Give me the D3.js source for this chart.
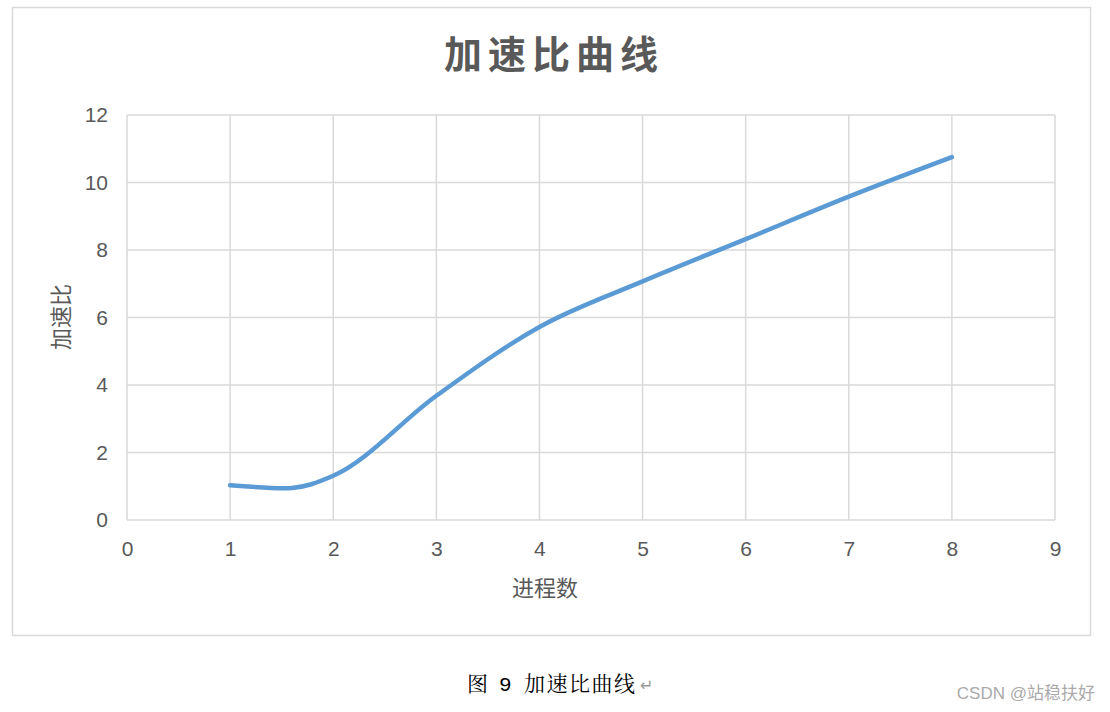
<!DOCTYPE html>
<html>
<head>
<meta charset="utf-8">
<script src="https://cdn.jsdelivr.net/npm/d3@7"></script>
<style>
  body { margin: 0; background: #fff; }
  svg { display: block; }
</style>
</head>
<body>
<div id="chart"></div>
<script>
// data
const processes = [1, 2, 3, 4, 5, 6, 7, 8];
const speedup = [1.03, 1.31, 3.68, 5.72, 7.07, 8.32, 9.58, 10.75];
const xTicks = [0, 1, 2, 3, 4, 5, 6, 7, 8, 9];
const yTicks = [0, 2, 4, 6, 8, 10, 12];

const width = 1110, height = 712;
const plot = { left: 127, right: 1055, top: 115, bottom: 520 };
const axisFont = "'Liberation Sans', 'Noto Sans CJK SC', sans-serif";
const cjkFont = "'Noto Sans CJK SC', sans-serif";
const grey = "#595959";

// Excel-like smoothed line: Catmull-Rom inside, end handles pulled toward the neighbour's handle
function SmoothCurve(context) { this._context = context; }
SmoothCurve.prototype = {
  areaStart() { this._line = 0; },
  areaEnd() { this._line = NaN; },
  lineStart() { this._pts = []; },
  point(x, y) { this._pts.push([+x, +y]); },
  lineEnd() {
    const p = this._pts, n = p.length, ctx = this._context;
    if (!n) return;
    ctx.moveTo(p[0][0], p[0][1]);
    if (n < 3) { if (n === 2) ctx.lineTo(p[1][0], p[1][1]); return; }
    const cin = [], cout = [];
    for (let i = 1; i < n - 1; i++) {
      const tx = (p[i + 1][0] - p[i - 1][0]) / 6, ty = (p[i + 1][1] - p[i - 1][1]) / 6;
      cin[i] = [p[i][0] - tx, p[i][1] - ty];
      cout[i] = [p[i][0] + tx, p[i][1] + ty];
    }
    const k = 0.9;
    cout[0] = [p[0][0] + k * (cin[1][0] - p[0][0]), p[0][1] + k * (cin[1][1] - p[0][1])];
    cin[n - 1] = [p[n - 1][0] + k * (cout[n - 2][0] - p[n - 1][0]), p[n - 1][1] + k * (cout[n - 2][1] - p[n - 1][1])];
    for (let i = 0; i < n - 1; i++) {
      ctx.bezierCurveTo(cout[i][0], cout[i][1], cin[i + 1][0], cin[i + 1][1], p[i + 1][0], p[i + 1][1]);
    }
  }
};
const smoothCurve = ctx => new SmoothCurve(ctx);

const svg = d3.select("#chart").append("svg")
  .attr("width", width)
  .attr("height", height);

// chart frame
svg.append("rect")
  .attr("x", 12.5).attr("y", 7.5)
  .attr("width", 1078).attr("height", 628)
  .attr("fill", "#fff")
  .attr("stroke", "#d9d9d9")
  .attr("stroke-width", 1.5);

const xScale = d3.scaleLinear().domain([0, 9]).range([plot.left, plot.right]);
const yScale = d3.scaleLinear().domain([0, 12]).range([plot.bottom, plot.top]);

// gridlines
svg.append("g")
  .selectAll("line.vgrid")
  .data(xTicks)
  .join("line")
  .attr("class", "vgrid")
  .attr("x1", d => xScale(d)).attr("x2", d => xScale(d))
  .attr("y1", plot.top).attr("y2", plot.bottom)
  .attr("stroke", "#d9d9d9")
  .attr("stroke-width", 1.5);

svg.append("g")
  .selectAll("line.hgrid")
  .data(yTicks)
  .join("line")
  .attr("class", "hgrid")
  .attr("x1", plot.left).attr("x2", plot.right)
  .attr("y1", d => yScale(d)).attr("y2", d => yScale(d))
  .attr("stroke", "#d9d9d9")
  .attr("stroke-width", 1.5);

// axes (labels only)
const xAxis = svg.append("g")
  .attr("transform", `translate(0,${plot.bottom})`)
  .call(d3.axisBottom(xScale).tickValues(xTicks).tickSize(0).tickPadding(21));
const yAxis = svg.append("g")
  .attr("transform", `translate(${plot.left},0)`)
  .call(d3.axisLeft(yScale).tickValues(yTicks).tickSize(0).tickPadding(19));

[xAxis, yAxis].forEach(a => {
  a.select(".domain").remove();
  a.selectAll("text")
    .attr("fill", grey)
    .style("font-family", axisFont)
    .style("font-size", "21px");
});

const line = d3.line()
  .x((d, i) => xScale(processes[i]))
  .y(d => yScale(d))
  .curve(smoothCurve);

svg.append("path")
  .datum(speedup)
  .attr("d", line)
  .attr("fill", "none")
  .attr("stroke", "#5b9bd5")
  .attr("stroke-width", 4.5)
  .attr("stroke-linecap", "round");

// titles
svg.append("text")
  .attr("x", 554).attr("y", 68)
  .attr("text-anchor", "middle")
  .attr("fill", grey)
  .style("font-family", cjkFont)
  .style("font-weight", "bold")
  .style("font-size", "38px")
  .style("letter-spacing", "6px")
  .text("加速比曲线");

svg.append("text")
  .attr("x", 545).attr("y", 596)
  .attr("text-anchor", "middle")
  .attr("fill", grey)
  .style("font-family", cjkFont)
  .style("font-size", "22px")
  .text("进程数");

svg.append("text")
  .attr("transform", "translate(69,317) rotate(-90)")
  .attr("text-anchor", "middle")
  .attr("fill", grey)
  .style("font-family", cjkFont)
  .style("font-size", "22px")
  .text("加速比");

// caption under the chart
const captionFont = "'Noto Serif CJK SC', 'Noto Sans CJK SC', serif";
const caption = svg.append("g").attr("fill", "#000")
  .style("font-family", captionFont)
  .style("font-size", "21px");
caption.append("text").attr("x", 467).attr("y", 691).text("图");
caption.append("text").attr("x", 499).attr("y", 691)
  .style("font-family", "'Liberation Mono', monospace").text("9");
caption.append("text").attr("x", 524).attr("y", 691)
  .style("letter-spacing", "1.5px").text("加速比曲线");
svg.append("text")
  .attr("x", 640).attr("y", 691)
  .attr("fill", "#999")
  .style("font-family", "'DejaVu Sans', sans-serif")
  .style("font-size", "16px")
  .text("↵");

svg.append("text")
  .attr("x", 1095).attr("y", 699)
  .attr("text-anchor", "end")
  .attr("fill", "#aaa")
  .style("font-family", "'Liberation Sans', 'Noto Sans CJK SC', sans-serif")
  .style("font-size", "17px")
  .text("CSDN @站稳扶好");
</script>
</body>
</html>
